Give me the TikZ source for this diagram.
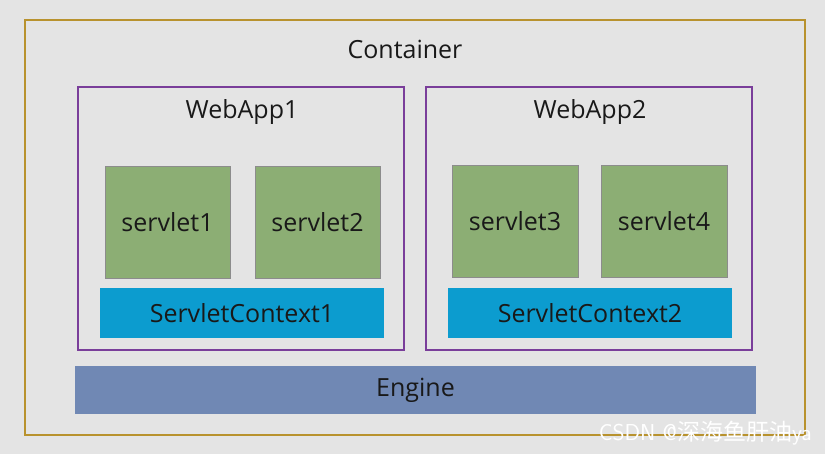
\documentclass[tikz,border=0pt]{standalone}
\usepackage{fontspec}
\setmainfont{Open Sans}
\newfontfamily\cjk{Noto Sans CJK SC}
\definecolor{bg}{HTML}{E4E4E4}
\definecolor{gold}{HTML}{B8922E}
\definecolor{purp}{HTML}{7A3E9A}
\definecolor{sgreen}{HTML}{8CAE74}
\definecolor{sblue}{HTML}{0C9CCF}
\definecolor{eng}{HTML}{7088B4}
\begin{document}
\begin{tikzpicture}[x=1pt,y=-1pt,
  txt/.style={font=\fontsize{25}{30}\selectfont,text=black!90},
  frame/.style={draw=#1,line width=2.6pt},
  box/.style={fill=#1,draw=black!45,line width=0.6pt}]
  \fill[bg] (0,0) rectangle (825,454);
  \useasboundingbox (0,0) rectangle (825,454);
  \draw[frame=gold] (25,20) rectangle (805,435);
  \node[txt] (container) at (405,49) {Container};
  % web apps
  \draw[frame=purp] (78,87) rectangle (404,350);
  \draw[frame=purp] (426,87) rectangle (752,350);
  \node[txt] (w1) at (242,112) {WebApp1};
  \node[txt] (w2) at (590,112) {WebApp2};
  % servlets
  \draw[box=sgreen] (105,166) rectangle node[txt] (s1) {servlet1} (230,278);
  \draw[box=sgreen] (255,166) rectangle node[txt] (s2) {servlet2} (380,278);
  \draw[box=sgreen] (452,165) rectangle node[txt] (s3) {servlet3} (578,277);
  \draw[box=sgreen] (601,165) rectangle node[txt] (s4) {servlet4} (727,277);
  % contexts
  \fill[sblue] (100,288) rectangle node[txt] (c1) {ServletContext1} (384,338);
  \fill[sblue] (448,288) rectangle node[txt] (c2) {ServletContext2} (732,338);
  % engine
  \fill[eng] (75,366) rectangle node[txt] (e) {Engine} (756,414);
  \node[font=\fontsize{23}{26}\selectfont,text=white,anchor=east,inner sep=0pt] (wm)
    at (812,433) {\sffamily CSDN @{\cjk 深海鱼肝油}ya};
\end{tikzpicture}
\end{document}
